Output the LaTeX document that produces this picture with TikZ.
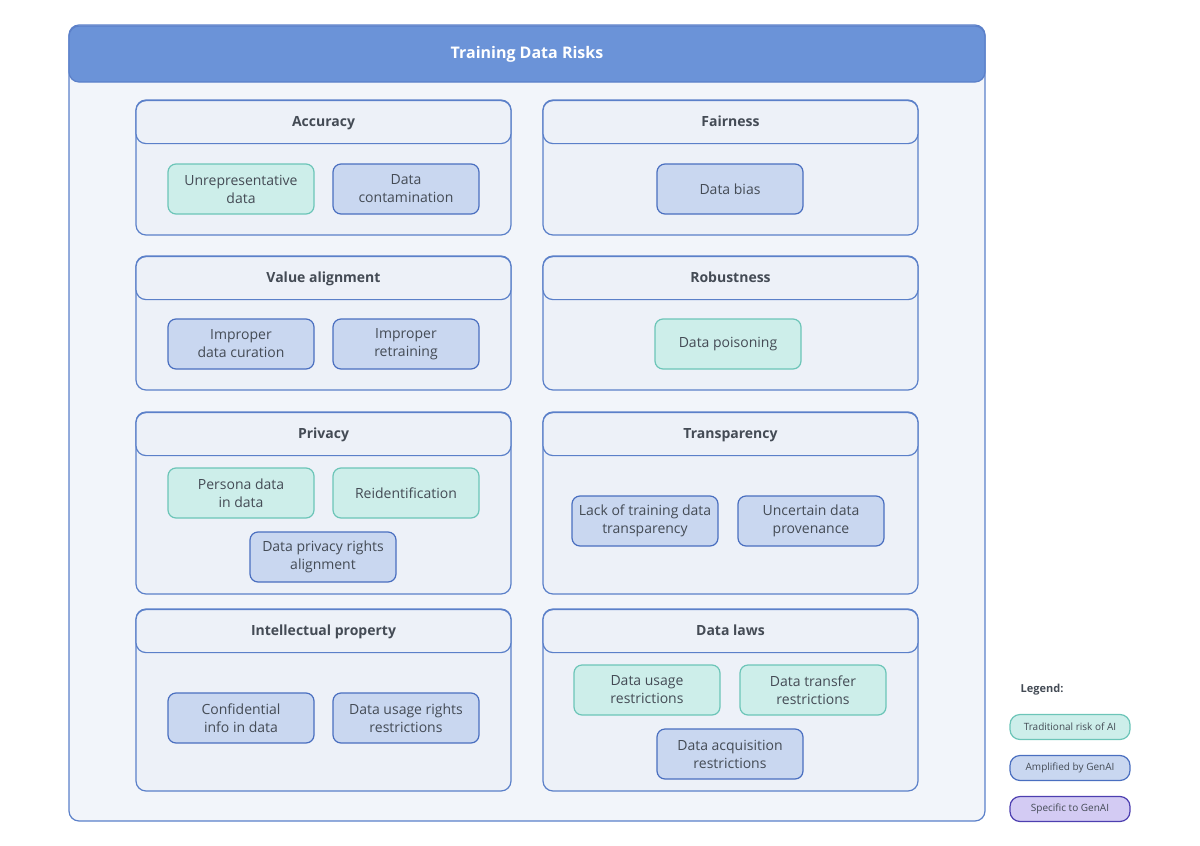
\documentclass[tikz,border=0pt]{standalone}
\usepackage{fontspec}
\setmainfont{Open Sans}
\definecolor{txtgray}{HTML}{444B55}
\definecolor{frameblue}{HTML}{5B80C9}
\definecolor{headblue}{HTML}{6B93D8}
\definecolor{panelbg}{HTML}{F2F5FA}
\definecolor{groupbg}{HTML}{EDF1F8}
\definecolor{tradfill}{HTML}{CDEEEA}
\definecolor{tradline}{HTML}{6CC5B8}
\definecolor{ampfill}{HTML}{C9D7F0}
\definecolor{ampline}{HTML}{4A6FC0}
\definecolor{specfill}{HTML}{D3CBF3}
\definecolor{specline}{HTML}{4D3FB0}
\tikzset{
    group/.style={draw=frameblue, fill=groupbg, rounded corners=10pt, line width=1.2pt,
        minimum width=375pt, inner sep=0pt},
    grouphead/.style={draw=frameblue, fill=groupbg, rounded corners=10pt, line width=1.2pt,
        minimum width=375pt, minimum height=43pt, text depth=2pt, font=\bfseries\fontsize{14}{16}\selectfont, text=txtgray},
    risk/.style={rounded corners=8pt, line width=1.2pt, minimum width=146pt, minimum height=50pt,
        align=center, text=txtgray, font=\fontsize{14}{18}\selectfont},
    trad/.style={risk, draw=tradline, fill=tradfill},
    amp/.style={risk, draw=ampline, fill=ampfill},
    legbox/.style={rounded corners=10pt, line width=1.2pt, minimum width=120pt, minimum height=25pt,
        text=txtgray, font=\fontsize{10}{12}\selectfont}
}
\begin{document}
\begin{tikzpicture}[x=1pt, y=-1pt]
\useasboundingbox (0,0) rectangle (1200,846);
% outer panel
\draw[draw=frameblue, fill=panelbg, rounded corners=10pt, line width=1.2pt] (69,25) rectangle (985,821);
\node (title) [draw=frameblue, fill=headblue, rounded corners=10pt, line width=1.2pt,
    minimum width=916pt, minimum height=56pt, text=white, font=\bfseries\fontsize{16}{18}\selectfont]
    at (527,54) {Training Data Risks};
% groups: x y-top y-bottom title
\foreach \x/\yt/\yb/\name/\lbl in {
    323.5/100/235/acc/Accuracy, 730.5/100/235/fair/Fairness,
    323.5/256/390/val/Value alignment, 730.5/256/390/rob/Robustness,
    323.5/412/594/priv/Privacy, 730.5/412/594/trans/Transparency,
    323.5/609/791/ip/Intellectual property, 730.5/609/791/laws/Data laws}{
    \node (\name) [group, minimum height={\yb-\yt}] at (\x,{(\yt+\yb)/2}) {};
    \node (\name-head) [grouphead, anchor=north] at (\x,\yt) {\lbl};
}
% accuracy / fairness
\node (unrep) [trad] at (241,189) {Unrepresentative\\data};
\node (contam) [amp] at (406,189) {Data\\contamination};
\node (bias) [amp] at (730,189) {Data bias};
% value alignment / robustness
\node (curation) [amp] at (241,344) {Improper\\data curation};
\node (retrain) [amp] at (406,344) {Improper\\retraining};
\node (poison) [trad] at (728,344) {Data poisoning};
% privacy / transparency
\node (persona) [trad] at (241,493) {Persona data\\in data};
\node (reident) [trad] at (406,493) {Reidentification};
\node (privrights) [amp] at (323,557) {Data privacy rights\\alignment};
\node (lacktrans) [amp] at (645,521) {Lack of training data\\transparency};
\node (provenance) [amp] at (811,521) {Uncertain data\\provenance};
% intellectual property / data laws
\node (confid) [amp] at (241,718) {Confidential\\info in data};
\node (usagerights) [amp] at (406,718) {Data usage rights\\restrictions};
\node (usage) [trad] at (647,690) {Data usage\\restrictions};
\node (transfer) [trad] at (813,690) {Data transfer\\restrictions};
\node (acquis) [amp] at (730,754) {Data acquisition\\restrictions};
% legend
\node (legend) [text=txtgray, font=\bfseries\fontsize{11}{13}\selectfont] at (1042,690) {Legend:};
\node (leg-trad) [legbox, draw=tradline, fill=tradfill] at (1070,727) {Traditional risk of AI};
\node (leg-amp) [legbox, draw=ampline, fill=ampfill] at (1070,768) {Amplified by GenAI};
\node (leg-spec) [legbox, draw=specline, fill=specfill] at (1070,809) {Specific to GenAI};
\end{tikzpicture}
\end{document}
